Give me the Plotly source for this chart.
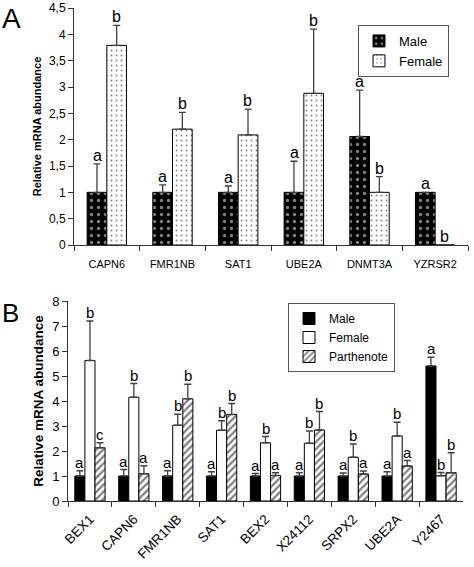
import plotly.graph_objects as go

# panel A
genesA = ["CAPN6", "FMR1NB", "SAT1", "UBE2A", "DNMT3A", "YZRSR2"]
maleA = [1.0, 1.0, 1.0, 1.0, 2.06, 1.0]
maleA_err = [0.54, 0.14, 0.12, 0.59, 0.88, None]
femaleA = [3.79, 2.2, 2.09, 2.88, 1.0, 0.0]
femaleA_err = [0.38, 0.32, 0.49, 1.22, 0.3, None]
lettersA_male = ["a", "a", "a", "a", "a", "a"]
lettersA_female = ["b", "b", "b", "b", "b", "b"]

# panel B
genesB = ["BEX1", "CAPN6", "FMR1NB", "SAT1", "BEX2", "X24112", "SRPX2", "UBE2A", "Y2467"]
maleB = [1.0, 1.0, 1.0, 1.0, 1.0, 1.0, 1.0, 1.0, 5.4]
maleB_err = [0.21, 0.26, 0.21, 0.17, 0.1, 0.13, 0.12, 0.17, 0.35]
femaleB = [5.62, 4.15, 3.03, 2.83, 2.33, 2.31, 1.75, 2.6, 1.01]
femaleB_err = [1.58, 0.55, 0.44, 0.38, 0.25, 0.49, 0.53, 0.55, 0.13]
parthB = [2.13, 1.09, 4.09, 3.46, 1.02, 2.84, 1.08, 1.4, 1.13]
parthB_err = [0.2, 0.32, 0.58, 0.44, 0.11, 0.74, 0.12, 0.22, 0.8]
lettersB_male = ["a", "a", "a", "a", "a", "a", "a", "a", "a"]
lettersB_female = ["b", "b", "b", "b", "b", "b", "b", "b", "b"]
lettersB_parth = ["c", "a", "b", "b", "a", "b", "a", "a", "b"]

FONT = "Liberation Sans, Arial, sans-serif"
ERRCOL = "#404040"

def err(arr):
    return dict(type="data", symmetric=False, array=arr,
                arrayminus=[0] * len(arr), color=ERRCOL, thickness=1.3, width=3.5)

fig = go.Figure()

fig.add_trace(go.Bar(
    x=genesA, y=maleA, name="Male", width=0.3, offset=-0.3,
    error_y=err(maleA_err),
    marker=dict(color="black", line=dict(color="black", width=1),
                pattern=dict(shape=".", bgcolor="black", fgcolor="white",
                             size=7, solidity=0.18)),
    xaxis="x", yaxis="y", legend="legend"))
fig.add_trace(go.Bar(
    x=genesA, y=femaleA, name="Female", width=0.3, offset=0,
    error_y=err(femaleA_err),
    marker=dict(color="white", line=dict(color="black", width=1),
                pattern=dict(shape=".", bgcolor="white", fgcolor="black",
                             size=5, solidity=0.1)),
    xaxis="x", yaxis="y", legend="legend"))

wB = 0.23
fig.add_trace(go.Bar(
    x=genesB, y=maleB, name="Male", width=wB, offset=-1.5 * wB,
    error_y=err(maleB_err),
    marker=dict(color="black", line=dict(color="black", width=1)),
    xaxis="x2", yaxis="y2", legend="legend2"))
fig.add_trace(go.Bar(
    x=genesB, y=femaleB, name="Female", width=wB, offset=-0.5 * wB,
    error_y=err(femaleB_err),
    marker=dict(color="white", line=dict(color="black", width=1)),
    xaxis="x2", yaxis="y2", legend="legend2"))
fig.add_trace(go.Bar(
    x=genesB, y=parthB, name="Parthenote", width=wB, offset=0.5 * wB,
    error_y=err(parthB_err),
    marker=dict(color="white", line=dict(color="black", width=1),
                pattern=dict(shape="/", bgcolor="white", fgcolor="black",
                             size=5, solidity=0.45)),
    xaxis="x2", yaxis="y2", legend="legend2"))

annotations = []

def add_letters(genes, vals, errs, letters, xref, yref, shift, size):
    for g, v, e, t in zip(genes, vals, errs, letters):
        top = v + (e or 0)
        annotations.append(dict(x=g, y=top, xref=xref, yref=yref, text=t,
                                showarrow=False, yanchor="bottom", xshift=shift,
                                yshift=-2, font=dict(size=size, color="black")))

add_letters(genesA, maleA, maleA_err, lettersA_male, "x", "y", -9.6, 16)
add_letters(genesA, femaleA, femaleA_err, lettersA_female, "x", "y", 9.6, 16)
add_letters(genesB, maleB, maleB_err, lettersB_male, "x2", "y2", -10, 15)
add_letters(genesB, femaleB, femaleB_err, lettersB_female, "x2", "y2", 0, 15)
add_letters(genesB, parthB, parthB_err, lettersB_parth, "x2", "y2", 10, 15)

annotations.append(dict(text="A", x=0.0, y=1 - 1 / 567, xref="paper", yref="paper",
                        xanchor="left", yanchor="top", showarrow=False,
                        font=dict(size=28, color="black")))
annotations.append(dict(text="B", x=0.0, y=1 - 296 / 567, xref="paper", yref="paper",
                        xanchor="left", yanchor="top", showarrow=False,
                        font=dict(size=26, color="black")))

axis_common = dict(showline=True, linecolor="#333", linewidth=1, showgrid=False,
                   zeroline=False, ticks="outside", ticklen=5, tickcolor="#333")

fig.update_layout(
    width=474, height=567,
    margin=dict(l=0, r=0, t=0, b=0),
    paper_bgcolor="white", plot_bgcolor="white",
    font=dict(family=FONT, color="black"),
    separators=",.",
    annotations=annotations,
    xaxis=dict(axis_common, domain=[74 / 474, 468 / 474], anchor="y",
               tickson="boundaries", tickfont=dict(size=11), ticklabelstandoff=9,
               automargin=False),
    yaxis=dict(axis_common, domain=[1 - 245 / 567, 1 - 8 / 567], anchor="x",
               range=[0, 4.5], dtick=0.5, tickfont=dict(size=12),
               title=dict(text="<b>Relative mRNA abundance</b>", font=dict(size=11),
                          standoff=5), automargin=False),
    xaxis2=dict(axis_common, domain=[68 / 474, 463 / 474], anchor="y2",
                tickson="boundaries", tickangle=-45, tickfont=dict(size=13.5),
                ticklabelstandoff=4, automargin=False),
    yaxis2=dict(axis_common, domain=[1 - 501 / 567, 1 - 301 / 567], anchor="x2",
                range=[0, 8], dtick=1, tickfont=dict(size=13),
                title=dict(text="<b>Relative mRNA abundance</b>", font=dict(size=13.5),
                           standoff=5), automargin=False),
    legend=dict(x=358 / 474, y=1 - 25 / 567, xanchor="left", yanchor="top",
                bordercolor="#555", borderwidth=1, font=dict(size=13),
                bgcolor="white", itemwidth=30),
    legend2=dict(x=288 / 474, y=1 - 303 / 567, xanchor="left", yanchor="top",
                 bordercolor="#555", borderwidth=1, font=dict(size=12),
                 bgcolor="white", itemwidth=30),
)

fig.write_html("out.html", config={"displayModeBar": False},
               post_script="document.body.style.margin='0px';")
